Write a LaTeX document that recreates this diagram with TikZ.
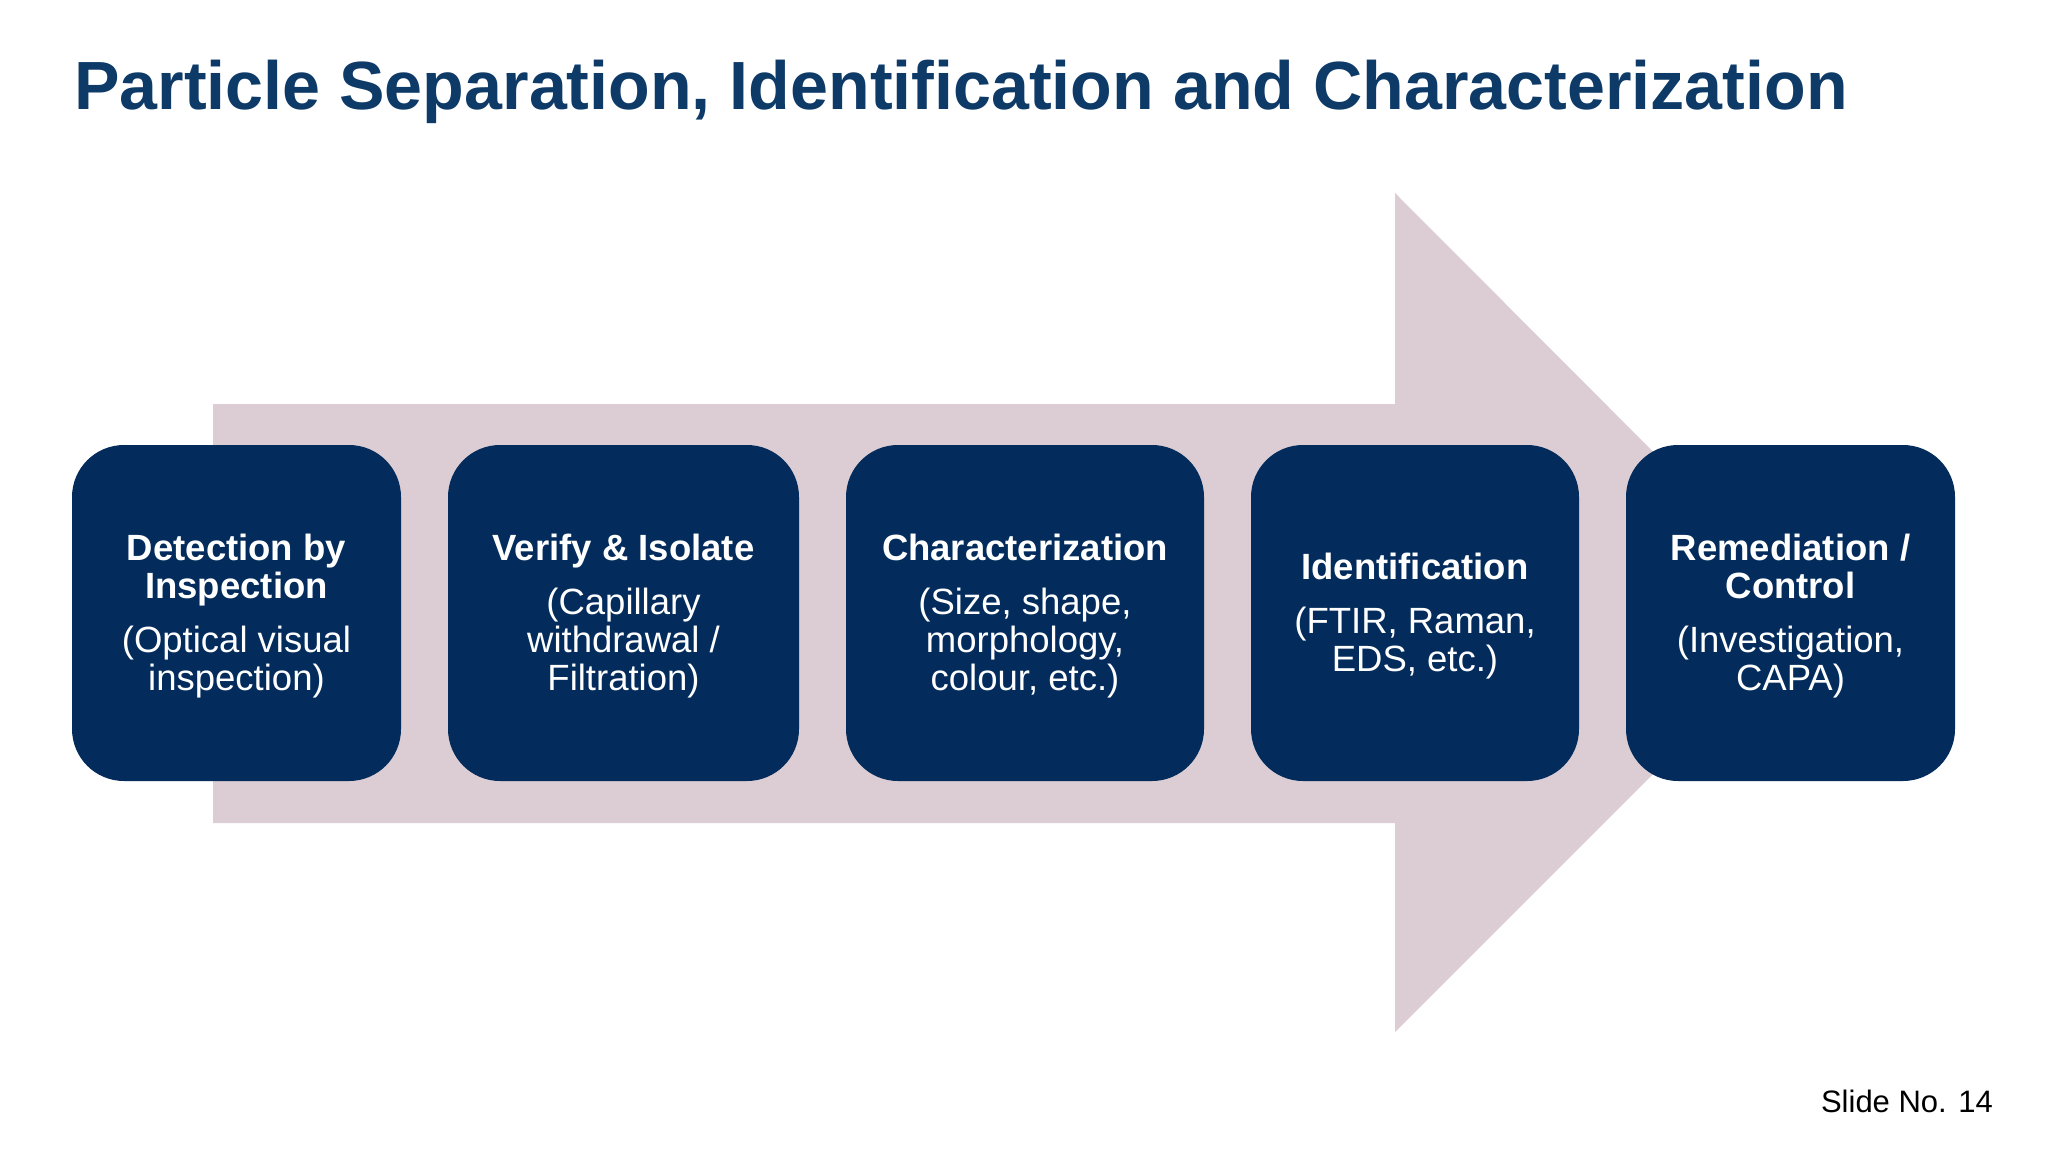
\documentclass[tikz,border=0pt]{standalone}
\usepackage{fontspec}
\setmainfont{Liberation Sans}
\definecolor{boxblue}{RGB}{3,44,92}
\definecolor{titleblue}{RGB}{14,58,104}
\definecolor{arrowpink}{RGB}{219,205,211}
\newcommand{\toplift}{\rule{0pt}{32pt}}
\tikzset{
  stepbox/.style={rectangle, rounded corners=52pt, fill=boxblue, draw=none,
    minimum height=336pt, inner sep=0pt, outer sep=0pt, text=white, align=center,
    font=\fontsize{36.5}{38}\selectfont},
  bigarrow/.style={fill=arrowpink, draw=none}
}
\begin{document}
\begin{tikzpicture}[x=1pt,y=-1pt]
\useasboundingbox (0,0) rectangle (2048,1152);
\fill[white] (0,0) rectangle (2048,1152);
% title
\node[anchor=base west, inner sep=0pt, text=titleblue, font=\fontsize{68.2}{80}\selectfont\bfseries] (title) at (74,109)
  {Particle Separation, Identification and Characterization};
% big arrow
\fill[bigarrow] (213,404) -- (1395,404) -- (1395,193) -- (1814,613) -- (1395,1032) -- (1395,823) -- (213,823) -- cycle;
% steps
\node[stepbox, minimum width=329pt] (b1) at (236.5,613)
  {\toplift\textbf{Detection by}\\\textbf{Inspection}\\[16pt](Optical visual\\inspection)};
\node[stepbox, minimum width=351pt] (b2) at (623.5,613)
  {\toplift\textbf{Verify \& Isolate}\\[16pt](Capillary\\withdrawal /\\Filtration)};
\node[stepbox, minimum width=358pt] (b3) at (1025,613)
  {\toplift\textbf{Characterization}\\[16pt](Size, shape,\\morphology,\\colour, etc.)};
\node[stepbox, minimum width=328pt] (b4) at (1415,613)
  {\toplift\textbf{Identification}\\[16pt](FTIR, Raman,\\EDS, etc.)};
\node[stepbox, minimum width=329pt] (b5) at (1790.5,613)
  {\toplift\textbf{Remediation /}\\\textbf{Control}\\[16pt](Investigation,\\CAPA)};
% slide number
\node[anchor=base east, inner sep=0pt, font=\fontsize{31}{36}\selectfont] (slideno) at (1993,1112) {Slide No. 14};
\end{tikzpicture}
\end{document}
